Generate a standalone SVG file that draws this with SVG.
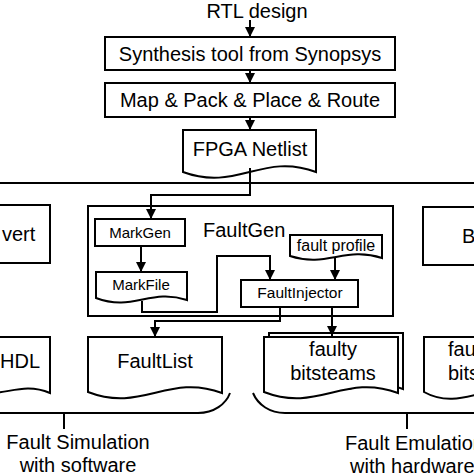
<svg xmlns="http://www.w3.org/2000/svg" width="474" height="474" viewBox="0 0 474 474">
<style>
.s{fill:#fff;stroke:#000;stroke-width:2}
.l{fill:none;stroke:#000;stroke-width:2}
text{font-family:"Liberation Sans",Arial,sans-serif;fill:#000}
.t20{font-size:20px}
.t15{font-size:15px}
</style>
<defs>
<marker id="a" viewBox="0 0 10 10" refX="10" refY="5" markerWidth="10" markerHeight="10" markerUnits="userSpaceOnUse" orient="auto">
<path d="M0,0 L10,5 L0,10 Z" fill="#000"/>
</marker>
</defs>
<rect width="474" height="474" fill="#fff"/>
<g id="rtl"><text class="t20" x="257" y="18" text-anchor="middle">RTL design</text></g>
<g id="synth"><rect class="s" x="105" y="37" width="290" height="33"/><text class="t20" x="250" y="61" text-anchor="middle">Synthesis tool from Synopsys</text></g>
<g id="map"><rect class="s" x="105" y="83" width="290" height="34"/><text class="t20" x="250" y="107" text-anchor="middle">Map &amp; Pack &amp; Place &amp; Route</text></g>
<g id="netlist"><path class="s" d="M183,130 H316 V172 C262,152 237,192 183,172 Z"/><text class="t20" x="250" y="156" text-anchor="middle">FPGA Netlist</text></g>
<g id="frame"><line class="l" x1="0" y1="183" x2="474" y2="183"/></g>
<g id="convert"><rect class="s" x="-20" y="205" width="70" height="58"/><text class="t20" x="2" y="241">vert</text></g>
<g id="faultgen"><rect class="l" x="88" y="206" width="305" height="110"/><text class="t20" x="203" y="237">FaultGen</text></g>
<g id="markgen"><rect class="s" x="95" y="219" width="90" height="27"/><text class="t15" x="140" y="238" text-anchor="middle">MarkGen</text></g>
<g id="markfile"><path class="s" d="M96,272 H187 V300 C150,288 133,312 96,298 Z"/><text class="t15" x="141" y="290" text-anchor="middle">MarkFile</text></g>
<g id="profile"><path class="s" d="M290,235 H382 V258 C345,246 327,268 290,256 Z"/><text x="336" y="251" text-anchor="middle" style="font-size:16px">fault profile</text></g>
<g id="injector"><rect class="s" x="241" y="280" width="117" height="27"/><text x="300" y="298" text-anchor="middle" style="font-size:15.5px">FaultInjector</text></g>
<g id="b"><rect class="s" x="423" y="207" width="70" height="58"/><text class="t20" x="462" y="243">B</text></g>
<g id="hdl"><path class="s" d="M-20,337 H50 V393 C20,380 0,400 -20,390 Z"/><text class="t20" x="0" y="368">HDL</text></g>
<g id="faultlist"><path class="s" d="M88,337 H222 V393 C168,373 142,413 88,392 Z"/><text class="t20" x="155" y="368" text-anchor="middle">FaultList</text></g>
<g id="bitstreams"><path class="s" d="M269,333 H403 V389 C380,380 360,385 349,389 L269,389 Z"/><path class="s" d="M264,337 H398 V393 C344,373 318,413 264,392 Z"/><text class="t20" x="333" y="356" text-anchor="middle">faulty</text><text class="t20" x="333" y="380" text-anchor="middle">bitsteams</text></g>
<g id="bitstreams2"><path class="s" d="M424,337 H520 V393 C490,380 460,412 424,392 Z"/><text class="t20" x="448" y="356">faulty</text><text class="t20" x="448" y="380">bitsteams</text></g>
<g id="connectors">
<line class="l" x1="250" y1="20" x2="250" y2="37" marker-end="url(#a)"/>
<line class="l" x1="250" y1="70" x2="250" y2="83" marker-end="url(#a)"/>
<line class="l" x1="250" y1="117" x2="250" y2="130" marker-end="url(#a)"/>
<polyline class="l" points="250,168 250,195 151,195 151,219" marker-end="url(#a)"/>
<line class="l" x1="141" y1="246" x2="141" y2="272" marker-end="url(#a)"/>
<polyline class="l" points="142,301 142,312 217,312 217,256 270,256 270,280" marker-end="url(#a)"/>
<line class="l" x1="335" y1="257" x2="335" y2="280" marker-end="url(#a)"/>
<polyline class="l" points="280,307 280,321 155,321 155,337" marker-end="url(#a)"/>
<line class="l" x1="332" y1="307" x2="332" y2="336" marker-end="url(#a)"/>
</g>
<g id="brace-sim"><path class="l" d="M0,413 H198 C214,413 226,404 230,393"/><line class="l" x1="64" y1="413" x2="64" y2="429"/><text class="t20" x="78" y="449" text-anchor="middle">Fault Simulation</text><text class="t20" x="78" y="472" text-anchor="middle">with software</text></g>
<g id="brace-emu"><path class="l" d="M253,393 C258,405 270,413 285,413 H474"/><line class="l" x1="407" y1="413" x2="407" y2="429"/><text class="t20" x="345" y="450">Fault Emulation</text><text class="t20" x="350" y="473">with hardware</text></g>
</svg>
